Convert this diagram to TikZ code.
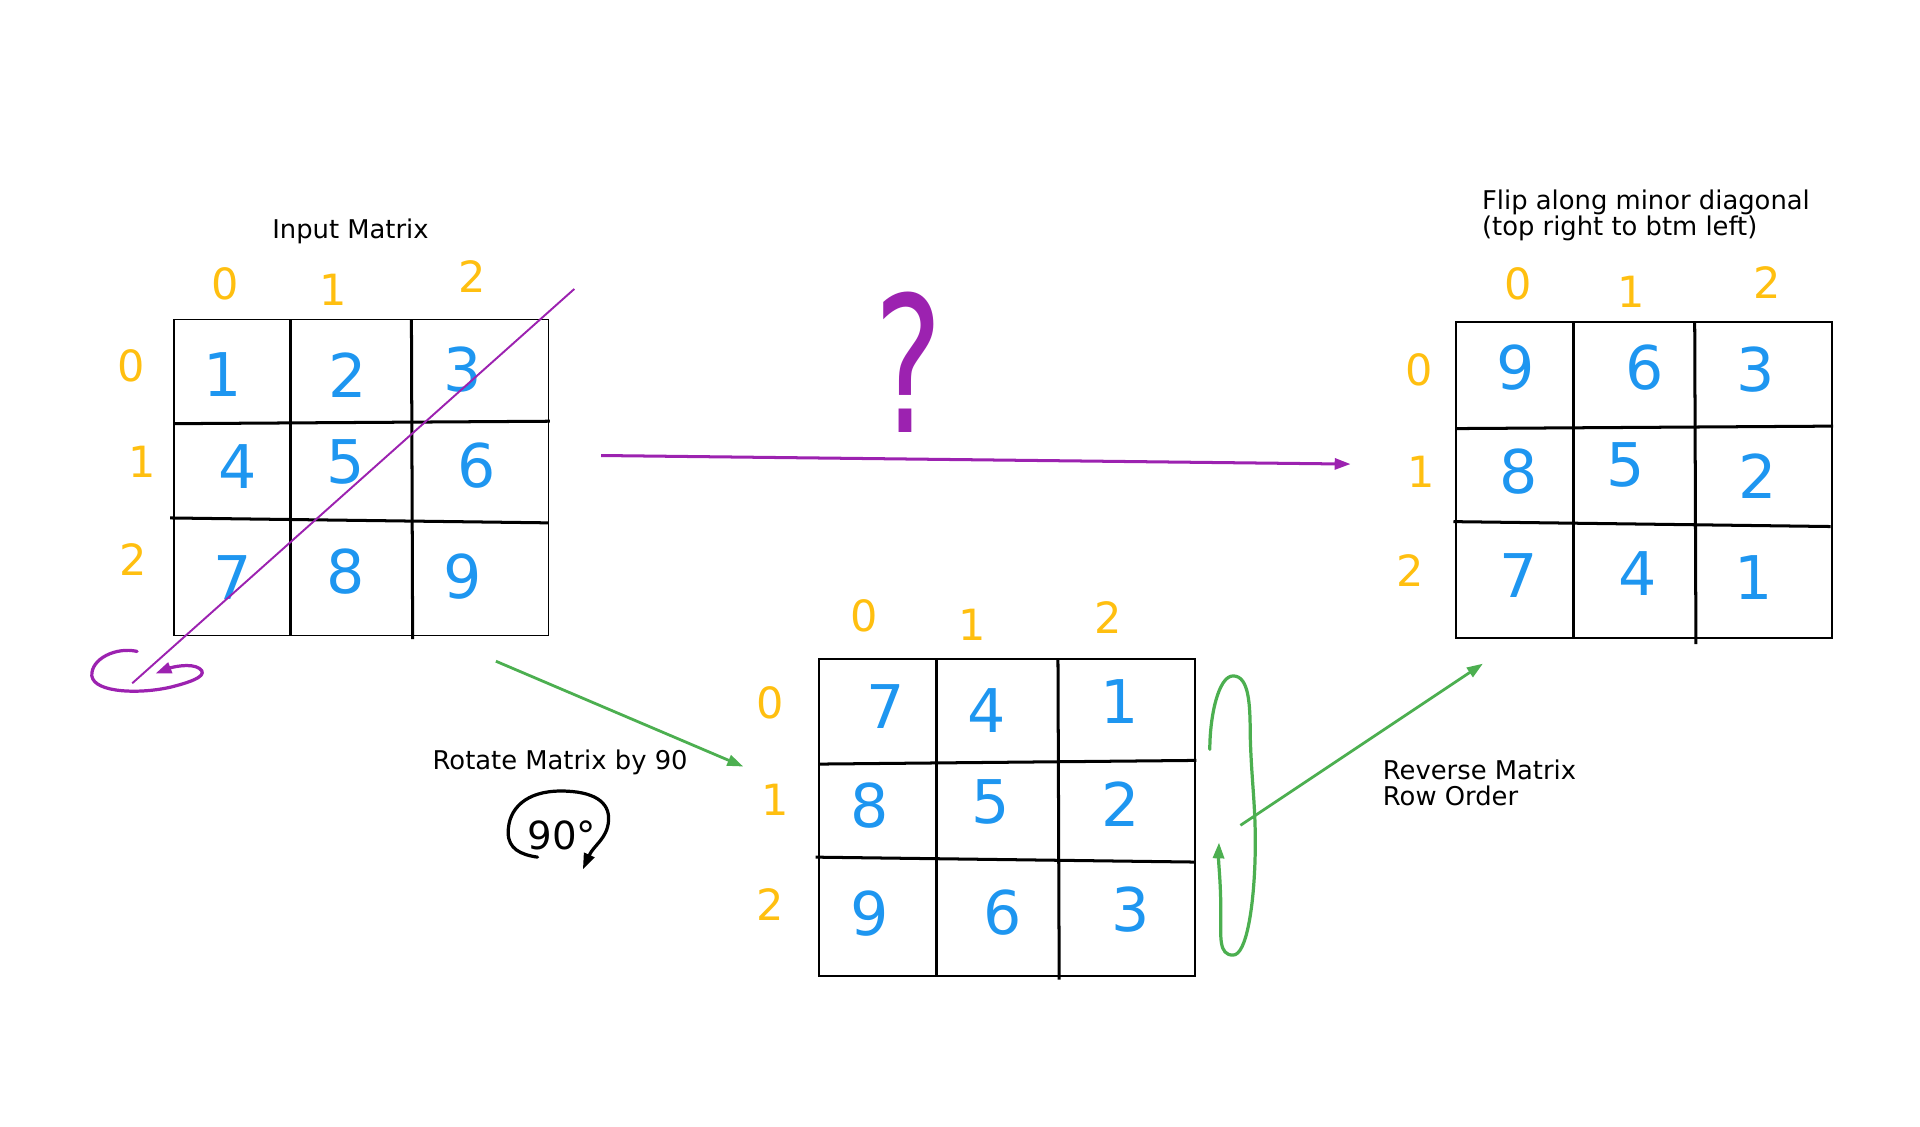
\documentclass[tikz,border=0pt]{standalone}
\usepackage{fontspec}
\setmainfont{DejaVu Sans}
\usetikzlibrary{arrows.meta}
\definecolor{penblue}{HTML}{1E96F0}
\definecolor{penorange}{HTML}{FFBF10}
\definecolor{penpurple}{HTML}{9C22B0}
\definecolor{pengreen}{HTML}{4CAF50}

\begin{document}
\begin{tikzpicture}[x=0.02cm, y=-0.02cm,
		num/.style={text=penblue, font=\fontsize{28}{28}\selectfont, inner sep=0pt},
		idx/.style={text=penorange, font=\fontsize{20}{20}\selectfont, inner sep=0pt},
		note/.style={font=\fontsize{12}{12}\selectfont, align=left, inner sep=0pt, anchor=north west},
		frame/.style={line width=0.7pt},
		bar/.style={line width=1.4pt},
		pen/.style={line width=1.5pt, line cap=round, line join=round},
		>={Triangle[length=0.26cm, width=0.18cm]}]
				\useasboundingbox (0,0) rectangle (1568,919.6);
				% input matrix
				\node[note] (inTitle)at(222, 178) {Input Matrix};
				\draw[frame] (142,261) rectangle (448,519);
				\draw[bar] (237,261) -- (237,519);
				\draw[bar] (336,261) -- (337,522);
				\draw[bar] (143,346) -- (449,344);
				\draw[bar] (139,423) -- (448,427);
				\node[idx] (inC0)at(184, 232) {0};
				\node[idx] (inC1)at(272, 237) {1};
				\node[idx] (inC2)at(386, 226) {2};
				\node[idx] (inR0)at(107, 299) {0};
				\node[idx] (inR1)at(116, 377) {1};
				\node[idx] (inR2)at(109, 457) {2};
				\node[num] (in1)at(182, 306) {1};
				\node[num] (in2)at(284, 306) {2};
				\node[num] (in3)at(378, 302) {3};
				\node[num] (in4)at(194, 381) {4};
				\node[num] (in5)at(282, 377) {5};
				\node[num] (in6)at(389, 380) {6};
				\node[num] (in7)at(190, 472) {7};
				\node[num] (in8)at(282, 467) {8};
				\node[num] (in9)at(378, 471) {9};
				% rotated matrix
				\draw[frame] (669,538) rectangle (976,797);
				\draw[bar] (765,538) -- (765,797);
				\draw[bar] (864,538) -- (865,800);
				\draw[bar] (669,624) -- (977,621);
				\draw[bar] (666,700) -- (975,704);
				\node[idx] (rtC0)at(706, 503) {0};
				\node[idx] (rtC1)at(794, 510) {1};
				\node[idx] (rtC2)at(905, 504) {2};
				\node[idx] (rtR0)at(629, 574) {0};
				\node[idx] (rtR1)at(633, 653) {1};
				\node[idx] (rtR2)at(629, 739) {2};
				\node[num] (rt7)at(723, 577) {7};
				\node[num] (rt4)at(806, 580) {4};
				\node[num] (rt1)at(914, 573) {1};
				\node[num] (rt8)at(710, 658) {8};
				\node[num] (rt5)at(809, 655) {5};
				\node[num] (rt2)at(915, 657) {2};
				\node[num] (rt9)at(710, 746) {9};
				\node[num] (rt6)at(819, 745) {6};
				\node[num] (rt3)at(923, 743) {3};
				% flipped matrix
				\node[note] (flTitle)at(1210, 155) {Flip along minor diagonal\\(top right to btm left)};
				\draw[frame] (1189,263) rectangle (1496,521);
				\draw[bar] (1285,263) -- (1285,521);
				\draw[bar] (1384,263) -- (1385,526);
				\draw[bar] (1190,350) -- (1497,348);
				\draw[bar] (1187,426) -- (1495,430);
				\node[idx] (flC0)at(1240, 232) {0};
				\node[idx] (flC1)at(1332, 238) {1};
				\node[idx] (flC2)at(1443, 231) {2};
				\node[idx] (flR0)at(1159, 302) {0};
				\node[idx] (flR1)at(1161, 385) {1};
				\node[idx] (flR2)at(1152, 466) {2};
				\node[num] (fl9)at(1238, 300) {9};
				\node[num] (fl6)at(1343, 300) {6};
				\node[num] (fl3)at(1434, 302) {3};
				\node[num] (fl8)at(1240, 385) {8};
				\node[num] (fl5)at(1328, 380) {5};
				\node[num] (fl2)at(1435, 389) {2};
				\node[num] (fl7)at(1240, 470) {7};
				\node[num] (fl4)at(1337, 468) {4};
				\node[num] (fl1)at(1432, 472) {1};
				% purple route: flip directly
				\coordinate (diagTop)at(469, 236);
				\coordinate (diagBot)at(108, 558);
				\draw[penpurple, line width=0.9pt] (diagTop) -- (diagBot);
				\draw[penpurple, pen, ->] (112,532) .. controls (95,528) and (74,538) .. (75,552) .. controls (77,566) and (115,567) .. (140,561) .. controls (160,556) and (170,551) .. (163,546) .. controls (156,541) and (140,545) .. (127,550);
				\coordinate (skipFrom)at(491, 372);
				\coordinate (skipTo)at(1103, 379);
				\draw[penpurple, line width=1.4pt, ->] (skipFrom) -- (skipTo);
				\node[text=penpurple, inner sep=0pt, font=\fontsize{88}{88}\selectfont] (ask)at(742, 296) {\scalebox{0.68}[1]{?}};
				% green route: rotate, then reverse rows
				\coordinate (rotFrom)at(405, 540);
				\coordinate (rotTo)at(607, 626);
				\draw[pengreen, line width=1.3pt, ->] (rotFrom) -- (rotTo);
				\node[note] (rotLabel)at(353, 612) {Rotate Matrix by 90};
				\draw[pen, ->] (439,700) .. controls (425,698) and (415,693) .. (415,680) .. controls (415,660) and (430,646) .. (458,646) .. controls (485,646) and (498,655) .. (497,670) .. controls (496,685) and (485,690) .. (476,710);
				\node[inner sep=0pt, font=\fontsize{18}{18}\selectfont] (deg)at(459, 682) {90°};
				\draw[pengreen, pen, ->] (988,612) .. controls (988,585) and (995,552) .. (1007,552) .. controls (1020,552) and (1021,575) .. (1021,600) .. controls (1022,640) and (1026,660) .. (1025,700) .. controls (1024,740) and (1018,780) .. (1007,780) .. controls (995,780) and (997,765) .. (997,745) .. controls (997,720) and (995,705) .. (995.5,688);
				\coordinate (revFrom)at(1013, 674);
				\coordinate (revTo)at(1211, 542);
				\draw[pengreen, line width=1.3pt, ->] (revFrom) -- (revTo);
				\node[note] (revLabel)at(1129, 620) {Reverse Matrix\\Row Order};
			\end{tikzpicture}
\end{document}
